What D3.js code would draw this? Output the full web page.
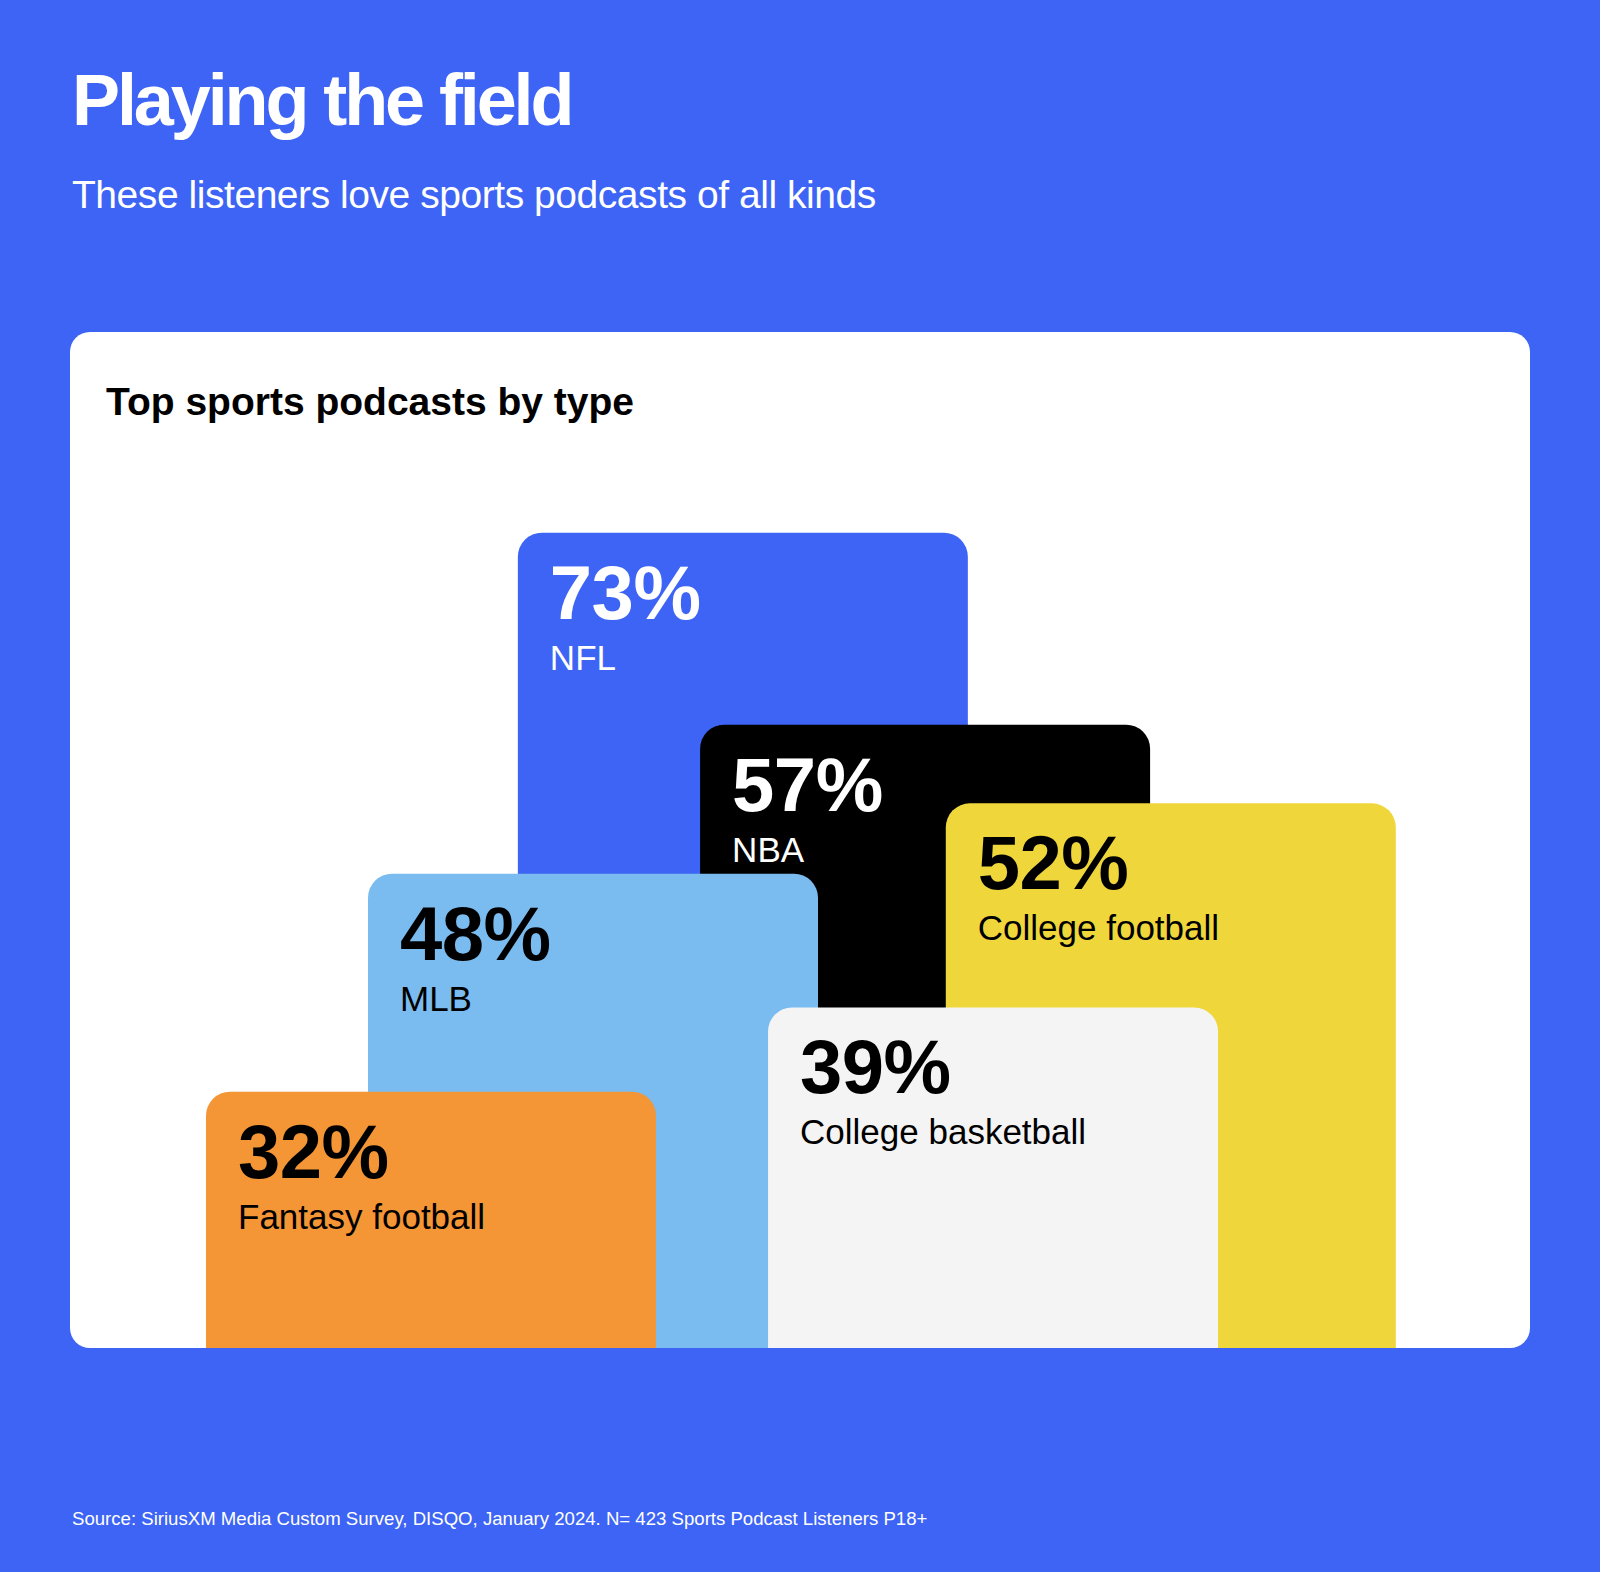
<!DOCTYPE html>
<html>
<head>
<meta charset="utf-8">
<script src="https://cdn.jsdelivr.net/npm/d3@7"></script>
<style>
  html, body { margin: 0; padding: 0; background: #3D64F4; }
  svg { display: block; }
  text { font-family: "Liberation Sans", Arial, sans-serif; }
</style>
</head>
<body>
<script>
// ---- data ----
const categories = ["NFL", "NBA", "College football", "MLB", "College basketball", "Fantasy football"];
const values = [73, 57, 52, 48, 39, 32];
const valueLabels = ["73%", "57%", "52%", "48%", "39%", "32%"];

// ---- layout / style (not data) ----
const slot = [0.693, 1.098, 1.644, 0.36, 1.249, 0];   // left edge, in bar widths from the first bar
const fills = ["#3D64F4", "#000000", "#EFD63B", "#7BBCF0", "#F4F4F4", "#F49536"];
const inks = ["#FFFFFF", "#FFFFFF", "#000000", "#000000", "#000000", "#000000"];

const W = 1600, H = 1572;
const card = { x: 70, y: 332, w: 1460, h: 1016, r: 20 };
const barW = 450;
const midpoint = 50;   // diverging centre of the vertical scale (percent)

const svg = d3.select("body").append("svg").attr("width", W).attr("height", H);
svg.append("rect").attr("width", W).attr("height", H).attr("fill", "#3D64F4");

// Title & subtitle
svg.append("text").attr("x", 72).attr("y", 125)
  .attr("fill", "#fff").attr("font-size", 72).attr("font-weight", 700)
  .attr("letter-spacing", -3.1).text("Playing the field");
svg.append("text").attr("x", 72).attr("y", 208)
  .attr("fill", "#fff").attr("font-size", 39)
  .attr("letter-spacing", -0.45).text("These listeners love sports podcasts of all kinds");

// Card
svg.append("rect").attr("x", card.x).attr("y", card.y).attr("width", card.w).attr("height", card.h)
  .attr("rx", card.r).attr("fill", "#fff");
svg.append("text").attr("x", 106).attr("y", 415)
  .attr("fill", "#000").attr("font-size", 39).attr("font-weight", 700)
  .text("Top sports podcasts by type");

const defs = svg.append("defs");
defs.append("clipPath").attr("id", "cardClip").append("rect")
  .attr("x", card.x).attr("y", card.y).attr("width", card.w).attr("height", card.h).attr("rx", card.r);

// Scales
const xScale = d3.scaleLinear().domain([0, 1]).range([206, 206 + barW]);
const yScale = d3.scaleSymlog().constant(28).domain([-50, 50]).range([1361, 316]);
const barTop = v => yScale(v - midpoint);

const rows = categories.map((c, i) => ({
  cat: c, value: values[i], label: valueLabels[i], slot: slot[i], fill: fills[i], ink: inks[i]
})).sort((a, b) => d3.descending(a.value, b.value));

const g = svg.append("g").attr("clip-path", "url(#cardClip)");
const bars = g.selectAll("g.bar").data(rows).join("g").attr("class", "bar")
  .attr("transform", d => `translate(${xScale(d.slot)},${barTop(d.value)})`);

bars.append("rect")
  .attr("x", 0).attr("y", 0)
  .attr("width", xScale(1) - xScale(0))
  .attr("height", d => card.y + card.h + 40 - barTop(d.value))
  .attr("rx", 24)
  .attr("fill", d => d.fill);

bars.append("text").attr("x", 32).attr("y", 86)
  .attr("fill", d => d.ink).attr("font-size", 76).attr("font-weight", 700)
  .attr("letter-spacing", -0.5)
  .text(d => d.label);

bars.append("text").attr("x", 32).attr("y", 137)
  .attr("fill", d => d.ink).attr("font-size", 35)
  .text(d => d.cat);

// Source
svg.append("text").attr("x", 72).attr("y", 1525)
  .attr("fill", "#fff").attr("font-size", 18.6)
  .text("Source: SiriusXM Media Custom Survey, DISQO, January 2024. N= 423 Sports Podcast Listeners P18+");
</script>
</body>
</html>
